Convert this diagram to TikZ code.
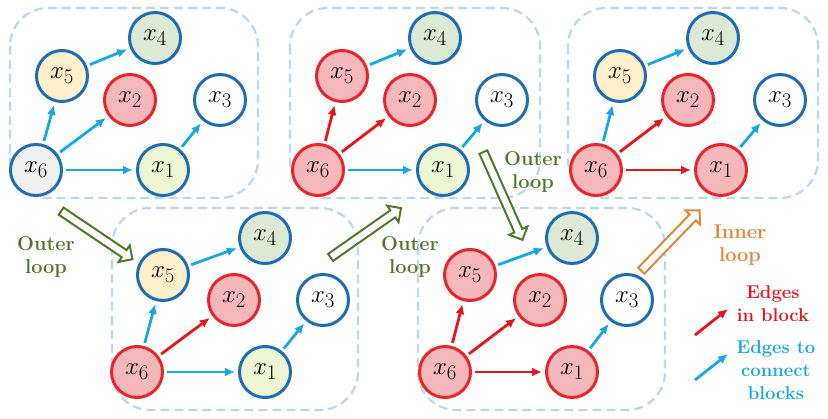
\documentclass[tikz,border=0pt]{standalone}
\usetikzlibrary{shapes.arrows,arrows.meta}
\definecolor{bl}{HTML}{1F6DB5}
\definecolor{rd}{HTML}{E8262A}
\definecolor{rf}{HTML}{F4B8BA}
\definecolor{yf}{HTML}{FFF0CC}
\definecolor{gf}{HTML}{DCE9D5}
\definecolor{lf}{HTML}{EEF5D2}
\definecolor{wf}{HTML}{F0F0F0}
\definecolor{cy}{HTML}{16A8E0}
\definecolor{ra}{HTML}{E8141C}
\definecolor{dbox}{HTML}{BDD7EE}
\definecolor{og}{HTML}{4E7A2A}
\definecolor{orn}{HTML}{E0883A}
\tikzset{
 bn/.style={circle,draw=bl,line width=3pt,minimum size=51pt,inner sep=0pt,font=\fontsize{28}{30}\selectfont},
 rn/.style={circle,draw=rd,fill=rf,line width=3pt,minimum size=51pt,inner sep=0pt,font=\fontsize{28}{30}\selectfont},
 ce/.style={cy,line width=2.8pt,-{Latex[length=10pt,width=9pt]},shorten <=3pt,shorten >=3pt},
 re/.style={ra,line width=2.8pt,-{Latex[length=10pt,width=9pt]},shorten <=3pt,shorten >=3pt},
 pbox/.style={draw=dbox,dash pattern=on 9pt off 5pt,line width=2.2pt,rounded corners=38pt},
 hol/.style={single arrow,draw=#1,line width=2pt,fill=white,minimum width=20pt,single arrow head extend=4pt,inner sep=2pt,single arrow head indent=0pt},
 lbl/.style={font=\bfseries\fontsize{20}{23}\selectfont,align=center,inner sep=0pt}
}
\begin{document}
\begin{tikzpicture}[x=1pt,y=-1pt]
\useasboundingbox (0,0) rectangle (828,419);
% panel 1
\draw[pbox] (10,8) rectangle (258,198);
\node[bn,fill=gf] (a4) at (155,38) {$x_4$};
\node[bn,fill=yf] (a5) at (62,76) {$x_5$};
\node[rn] (a2) at (130,100) {$x_2$};
\node[bn,fill=white] (a3) at (220,100) {$x_3$};
\node[bn,fill=wf] (a6) at (36,170) {$x_6$};
\node[bn,fill=lf] (a1) at (163,170) {$x_1$};
\draw[ce] (a6)--(a5); \draw[ce] (a5)--(a4); \draw[ce] (a6)--(a2); \draw[ce] (a6)--(a1); \draw[ce] (a1)--(a3);
% panel 2
\draw[pbox] (112,208) rectangle (358,410);
\node[bn,fill=gf] (b4) at (265,238) {$x_4$};
\node[bn,fill=yf] (b5) at (163,275) {$x_5$};
\node[rn] (b2) at (234,300) {$x_2$};
\node[bn,fill=white] (b3) at (323,300) {$x_3$};
\node[rn] (b6) at (137,372) {$x_6$};
\node[bn,fill=lf] (b1) at (265,372) {$x_1$};
\draw[ce] (b6)--(b5); \draw[ce] (b5)--(b4); \draw[re] (b6)--(b2); \draw[ce] (b6)--(b1); \draw[ce] (b1)--(b3);
% panel 3
\draw[pbox] (290,8) rectangle (540,198);
\node[bn,fill=gf] (c4) at (435,38) {$x_4$};
\node[rn] (c5) at (342,76) {$x_5$};
\node[rn] (c2) at (410,100) {$x_2$};
\node[bn,fill=white] (c3) at (502,100) {$x_3$};
\node[rn] (c6) at (318,170) {$x_6$};
\node[bn,fill=lf] (c1) at (443,170) {$x_1$};
\draw[re] (c6)--(c5); \draw[ce] (c5)--(c4); \draw[re] (c6)--(c2); \draw[ce] (c6)--(c1); \draw[ce] (c1)--(c3);
% panel 4
\draw[pbox] (418,208) rectangle (665,410);
\node[bn,fill=gf] (d4) at (572,238) {$x_4$};
\node[rn] (d5) at (470,275) {$x_5$};
\node[rn] (d2) at (540,300) {$x_2$};
\node[bn,fill=white] (d3) at (627,300) {$x_3$};
\node[rn] (d6) at (445,372) {$x_6$};
\node[rn] (d1) at (572,372) {$x_1$};
\draw[re] (d6)--(d5); \draw[ce] (d5)--(d4); \draw[re] (d6)--(d2); \draw[re] (d6)--(d1); \draw[ce] (d1)--(d3);
% panel 5
\draw[pbox] (568,8) rectangle (818,198);
\node[bn,fill=gf] (e4) at (713,38) {$x_4$};
\node[bn,fill=yf] (e5) at (620,76) {$x_5$};
\node[rn] (e2) at (688,100) {$x_2$};
\node[bn,fill=white] (e3) at (780,100) {$x_3$};
\node[rn] (e6) at (596,170) {$x_6$};
\node[rn] (e1) at (721,170) {$x_1$};
\draw[ce] (e6)--(e5); \draw[ce] (e5)--(e4); \draw[re] (e6)--(e2); \draw[re] (e6)--(e1); \draw[ce] (e1)--(e3);
% loop arrows
\node[hol=og,minimum height=86pt,rotate=-34] (h1) at (95,234) {};
\node[hol=og,minimum height=86pt,rotate=35] (h2) at (364,234) {};
\node[hol=og,minimum height=96pt,rotate=-66] (h3) at (502,194) {};
\node[hol=orn,minimum height=84pt,rotate=46] (h4) at (669,242) {};
\node[lbl,og] (t1) at (46,257) {Outer\\loop};
\node[lbl,og] (t2) at (410,257) {Outer\\loop};
\node[lbl,og] (t3) at (533,172) {Outer\\loop};
\node[lbl,orn] (t4) at (740,245) {Inner\\loop};
% legend
\coordinate (l1a) at (695,335); \coordinate (l1b) at (728,309);
\coordinate (l2a) at (695,380); \coordinate (l2b) at (728,354);
\draw[re,shorten <=0pt,shorten >=0pt] (l1a)--(l1b);
\draw[ce,shorten <=0pt,shorten >=0pt] (l2a)--(l2b);
\node[lbl,ra,font=\bfseries\fontsize{18.5}{23}\selectfont] (t5) at (773,304) {Edges\\in block};
\node[lbl,cy,font=\bfseries\fontsize{18.5}{23}\selectfont] (t6) at (776,370) {Edges to\\connect\\blocks};
\end{tikzpicture}
\end{document}
